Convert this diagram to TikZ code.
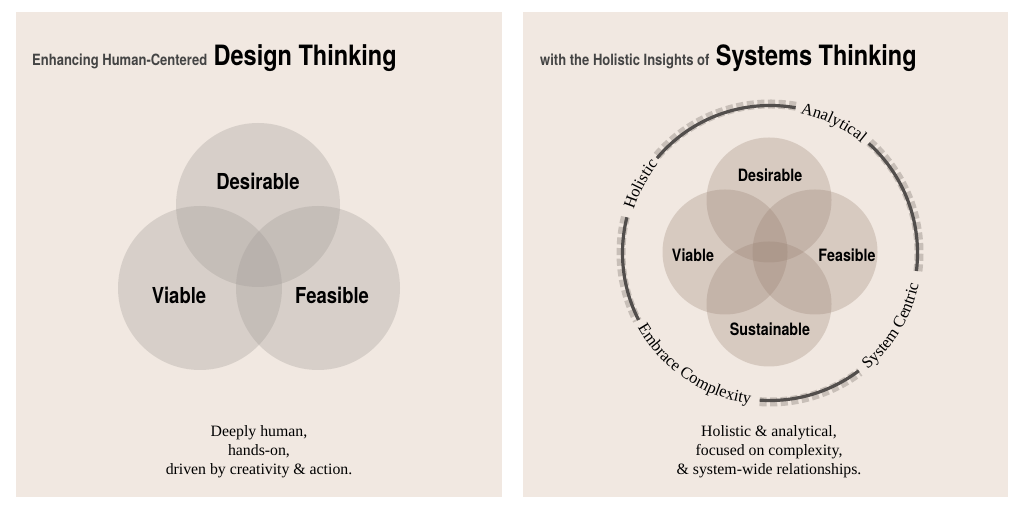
\documentclass[tikz,border=0pt]{standalone}
\usepackage{fontspec}
\setmainfont{Liberation Serif}
\newfontfamily\headfont[FakeStretch=0.84]{TeX Gyre Heros}
\usetikzlibrary{decorations.text}

\definecolor{panelbg}{RGB}{241,232,225}
\definecolor{greyfill}{RGB}{158,152,148}
\definecolor{brownfill}{RGB}{150,125,110}
\definecolor{ringdark}{RGB}{82,78,76}
\definecolor{ringlight}{RGB}{200,191,184}
\definecolor{subgrey}{RGB}{68,68,68}

\newcommand\ringfont{\fontsize{16.5}{16.5}\selectfont}

\begin{document}
\begin{tikzpicture}[x=1pt,y=1pt]
    \tikzstyle{left circle}=[
        circle,
        inner sep = 0pt,
        minimum size = 164pt,
        fill = greyfill,
        fill opacity = 0.3
    ]
    \tikzstyle{right circle}=[
        circle,
        inner sep = 0pt,
        minimum size = 125pt,
        fill = brownfill,
        fill opacity = 0.28
    ]
    \tikzstyle{big label}=[inner sep=0pt, font=\headfont\bfseries\fontsize{22}{22}\selectfont]
    \tikzstyle{small label}=[inner sep=0pt, font=\headfont\bfseries\fontsize{17}{17}\selectfont]
    \tikzstyle{title small}=[inner sep=0pt, anchor=base west, text=subgrey, font=\headfont\bfseries\fontsize{15.5}{15.5}\selectfont]
    \tikzstyle{title big}=[inner sep=0pt, anchor=base west, font=\headfont\bfseries\fontsize{28}{28}\selectfont]
    \tikzstyle{caption}=[inner sep=0pt, align=center, font=\fontsize{15.8}{19}\selectfont]
    \tikzstyle{ring line}=[draw=ringdark, line width=3.2pt]
    \tikzstyle{ring dash}=[draw=ringlight, line width=9pt, dash pattern=on 7pt off 3.5pt]

    \useasboundingbox (0,0) rectangle (1024,510);
    \fill[white] (0,0) rectangle (1024,510);
    \fill[panelbg] (16,13) rectangle (502,498);
    \fill[panelbg] (523,13) rectangle (1008,498);

    % left panel
    \node[title small] (lsub)  at (32,444) {Enhancing Human-Centered};
    \node[title big]   (lmain) at ([xshift=6pt]lsub.base east) {Design Thinking};

	\node[left circle] (ldes) at (258,305) {};
	\node[left circle] (lvia) at (200,222) {};
	\node[left circle] (lfea) at (318,222) {};

	\node[big label] (ldesl) at (258,329) {Desirable};
	\node[big label] (lvial) at (179,215) {Viable};
	\node[big label] (lfeal) at (332,215) {Feasible};

    \node[caption] (lcap) at (259,58) {Deeply human,\\hands-on,\\driven by creativity \& action.};

    % right panel
    \node[title small] (rsub)  at (540,444) {with the Holistic Insights of};
    \node[title big]   (rmain) at ([xshift=6pt]rsub.base east) {Systems Thinking};

	\node[right circle] (rdes) at (769,310) {};
	\node[right circle] (rvia) at (725,258) {};
	\node[right circle] (rfea) at (815,258) {};
	\node[right circle] (rsus) at (769,206) {};

	\node[small label] (rdesl) at (770,335) {Desirable};
	\node[small label] (rvial) at (693,255) {Viable};
	\node[small label] (rfeal) at (847,255) {Feasible};
	\node[small label] (rsusl) at (770,181) {Sustainable};

    \coordinate (ring) at (770,257);
    \foreach \a/\b in {80/140, -7/48, -94/-53, 166/207} {
        \path[ring dash] ([shift={(\a:149)}]ring) arc[start angle=\a, end angle=\b, radius=149];
        \path[ring line] ([shift={(\a:147.5)}]ring) arc[start angle=\a, end angle=\b, radius=147.5];
    }

    \path[decorate, decoration={text along path, text align=center, text={|\ringfont|Analytical}}]
        ([shift={(84:143)}]ring) arc[start angle=84, end angle=44, radius=143];
    \path[decorate, decoration={text along path, text align=center, text={|\ringfont|Holistic}}]
        ([shift={(172:143)}]ring) arc[start angle=172, end angle=132, radius=143];
    \path[decorate, decoration={text along path, text align=center, text={|\ringfont|System Centric}}]
        ([shift={(-60:152)}]ring) arc[start angle=-60, end angle=-2, radius=152];
    \path[decorate, decoration={text along path, text align=center, text={|\ringfont|Embrace Complexity}}]
        ([shift={(202:152)}]ring) arc[start angle=202, end angle=270, radius=152];

    \node[caption] (rcap) at (769,58) {Holistic \& analytical,\\focused on complexity,\\\& system-wide relationships.};

\end{tikzpicture}
\end{document}
